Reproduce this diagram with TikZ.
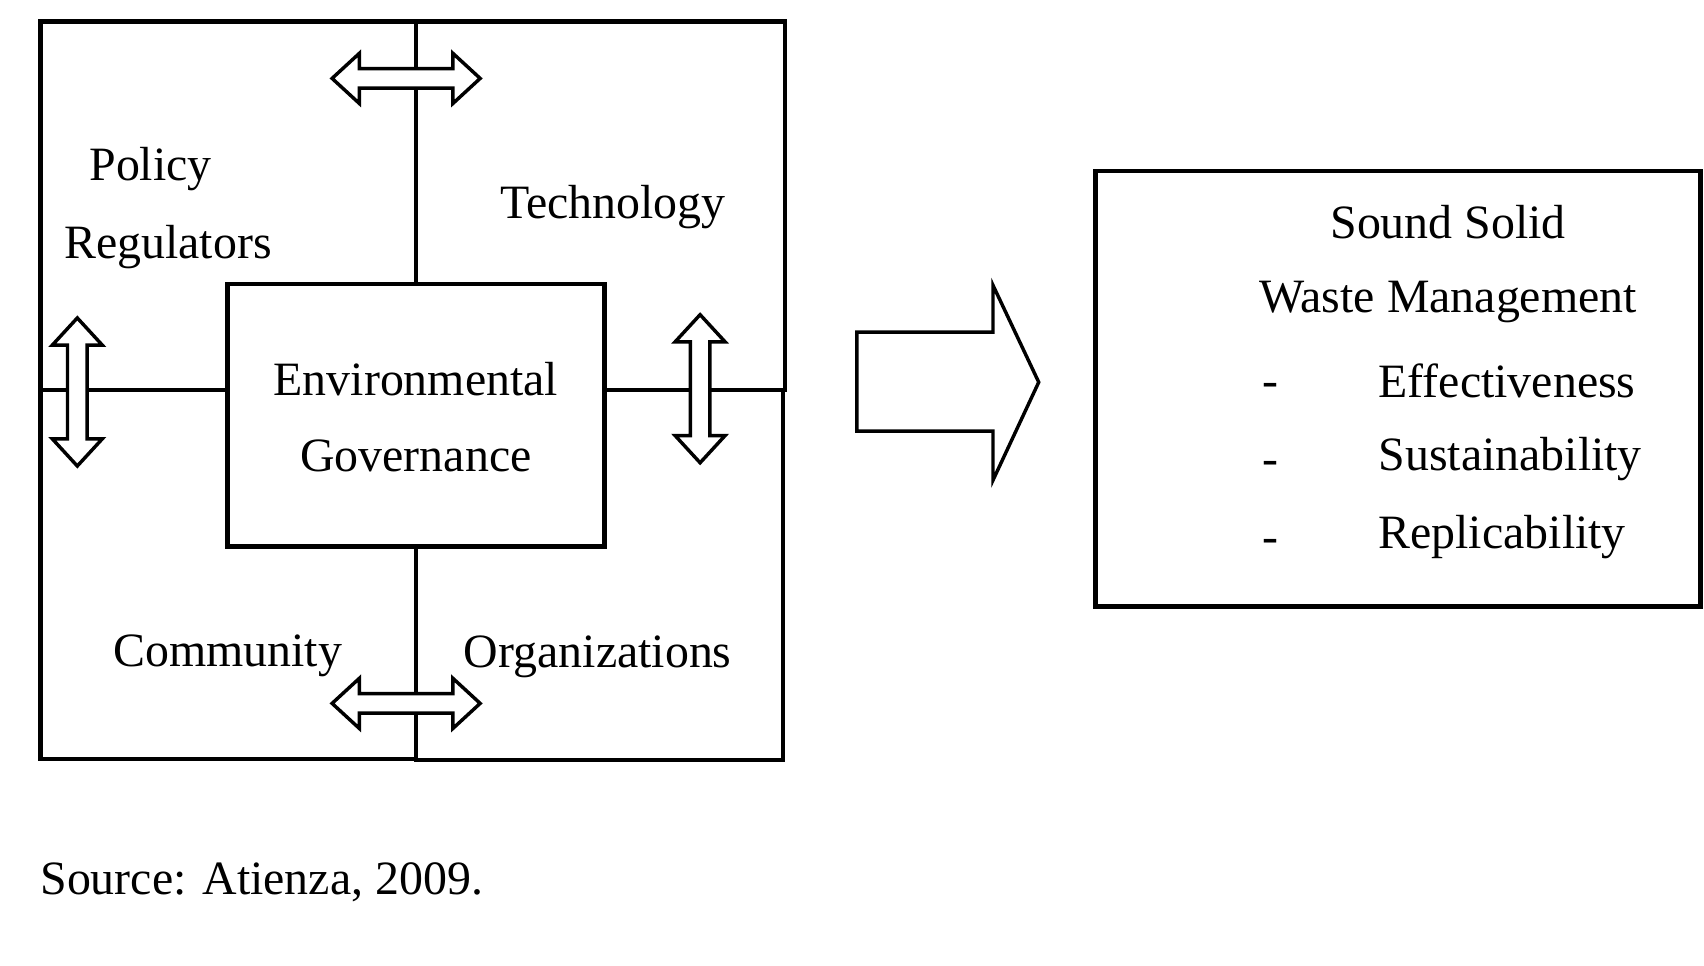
\documentclass[tikz,border=0pt]{standalone}
\usepackage{fontspec}
\setmainfont{Liberation Serif}
\begin{document}
\begin{tikzpicture}[x=0.01cm,y=-0.01cm,line width=1.2pt,
  lbl/.style={font=\fontsize{12.5pt}{14pt}\selectfont,inner sep=0pt},
  dbl/.pic={\draw[fill=white,line width=0.9pt] (-68,0)--(-43,-23)--(-43,-9)--(43,-9)--(43,-23)--(68,0)--(43,23)--(43,9)--(-43,9)--(-43,23)--cycle;}]
\useasboundingbox (0,0) rectangle (1565,887);
\draw (37,20) rectangle (382,697);
\draw (382,20) rectangle (721,358);
\draw (382,358) rectangle (719,698);
\draw[fill=white] (209,261) rectangle (555,502);
\draw (37,358)--(209,358) (555,358)--(721,358);
\pic at (373,72) {dbl};
\pic at (373,646) {dbl};
\pic[rotate=90] at (71,360) {dbl};
\pic[rotate=90] at (643,357) {dbl};
\draw[line width=0.9pt] (787,305)--(912,305)--(912,262)--(954,351)--(912,441)--(912,396)--(787,396)--cycle;
\draw (1006,157) rectangle (1562,557);
\node[lbl,anchor=west] at (80,155) {Policy};
\node[lbl,anchor=west] at (57,227) {Regulators};
\node[lbl] at (563,190) {Technology};
\node[lbl] at (382,348) {Environmental};
\node[lbl] at (382,419) {Governance};
\node[lbl] at (209,602) {Community};
\node[lbl] at (549,603) {Organizations};
\node[lbl] at (1330,204) {Sound Solid};
\node[lbl] at (1330,277) {Waste Management};
\foreach \y/\t in {350/Effectiveness,422/Sustainability,493/Replicability}{
  \node[lbl] at (1167,\y+8) {-};
  \node[lbl,anchor=west] at (1264,\y) {\t};}
\node[lbl,anchor=west] at (35,810) {Source: Atienza, 2009.};
\end{tikzpicture}
\end{document}
